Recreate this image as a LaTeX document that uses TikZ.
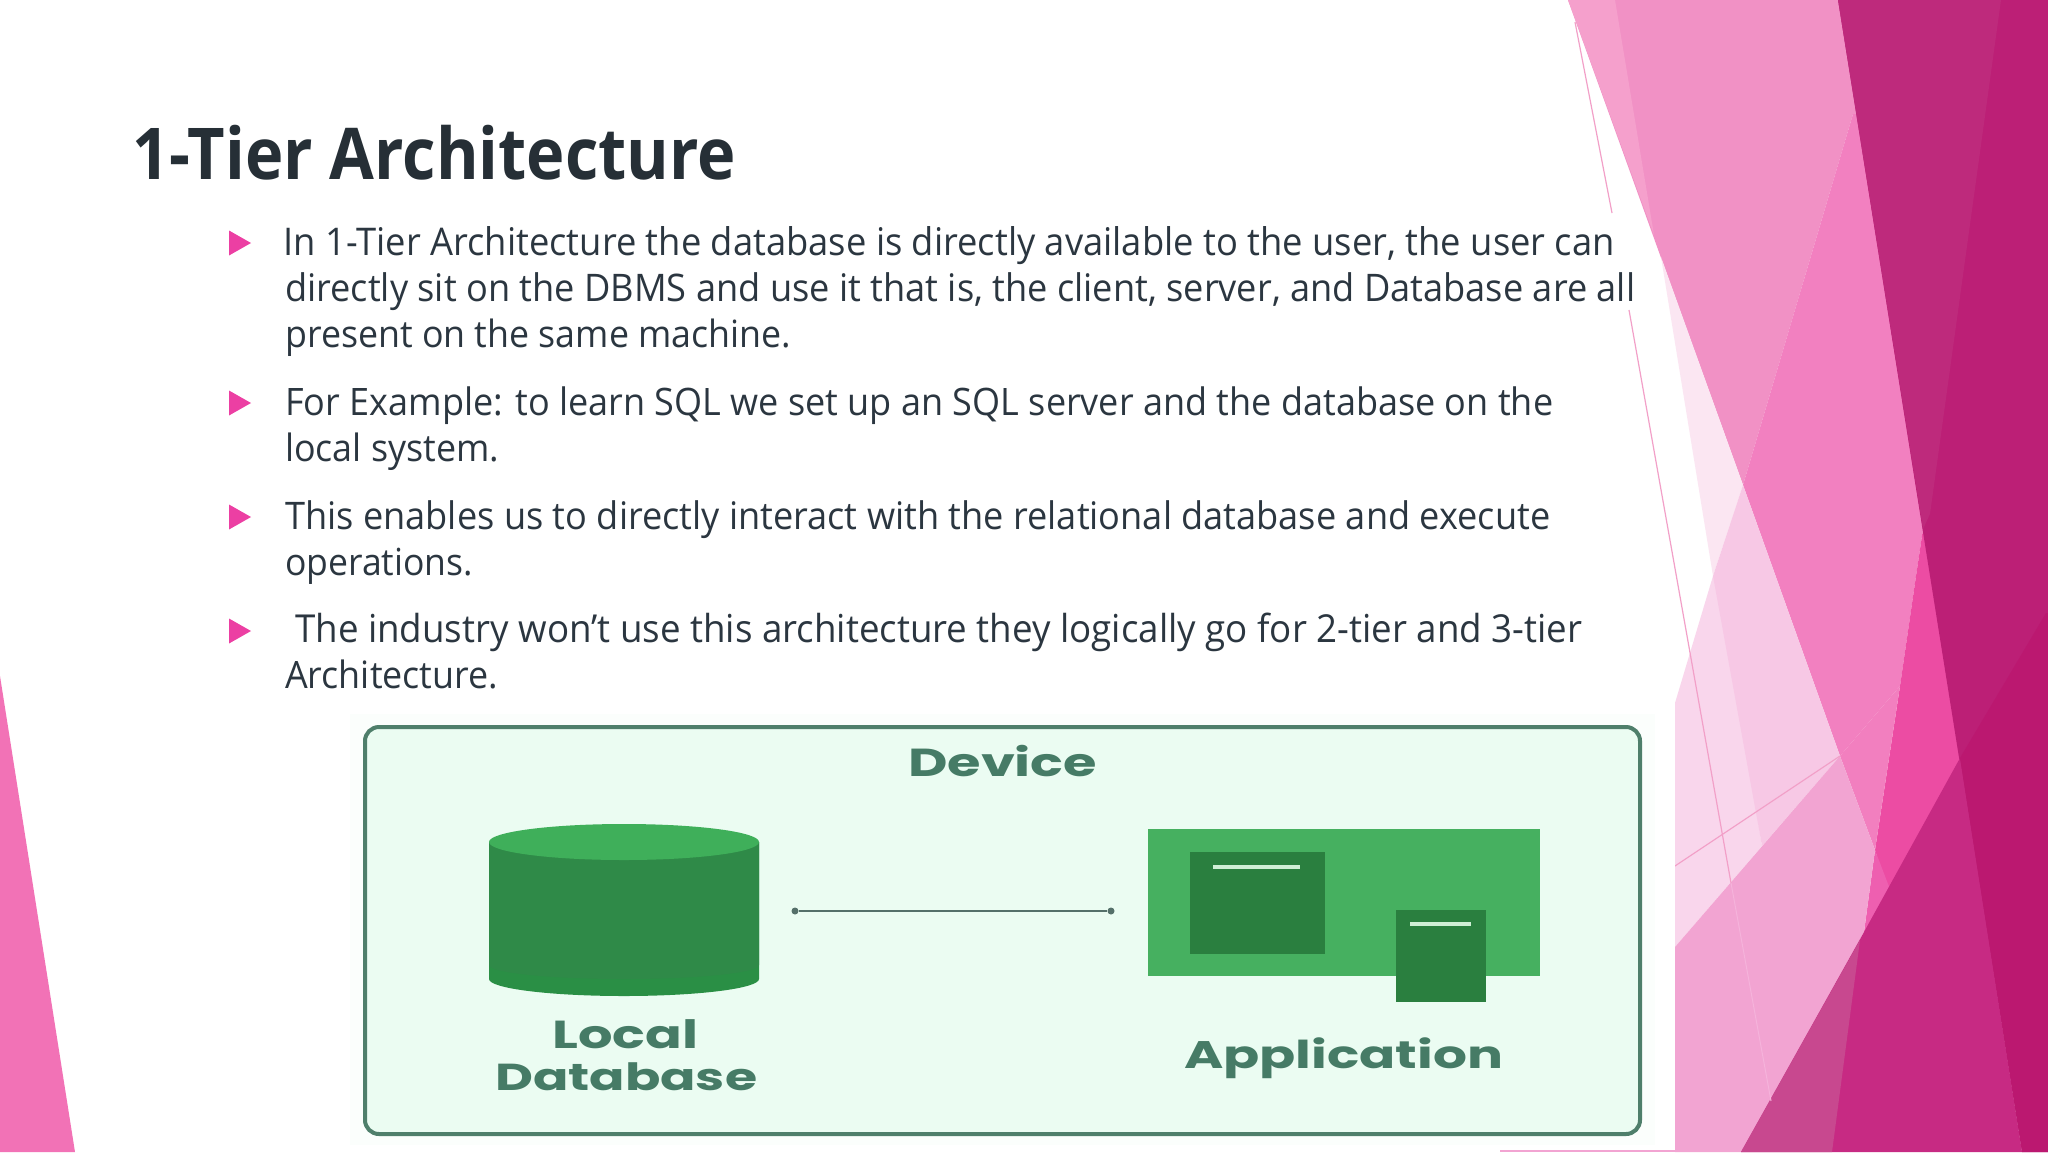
\documentclass[tikz,border=0pt]{standalone}
\usepackage{graphicx}
\usepackage{fontspec}
\setmainfont{Open Sans}
\newfontfamily\difont{Poppins}
\newcommand{\fitv}[3]{\scalebox{1}[#2]{\resizebox{#1pt}{!}{#3}}}
\newcommand{\fitw}[2]{\fitv{#1}{1.05}{#2}}
\newcommand{\hexfill}[2]{\definecolor{tmpc}{HTML}{#1}\fill[tmpc] #2;}
\definecolor{inkc}{HTML}{2B3640}
\definecolor{titlec}{HTML}{262F36}
\definecolor{bulletc}{HTML}{EC3FA3}
\definecolor{labelc}{HTML}{467B66}
\definecolor{panelc}{HTML}{EBFCF2}
\definecolor{panelln}{HTML}{4F7F6B}
\definecolor{thinc}{HTML}{F2A0C8}
\definecolor{thind}{HTML}{F5B3DB}
\definecolor{wirec}{HTML}{55706A}
\tikzset{
  titletext/.style={anchor=base west,inner sep=0pt,text=titlec,font=\fontsize{68}{80}\selectfont\bfseries},
  bodytext/.style={anchor=base west,inner sep=0pt,text=inkc,font=\fontsize{37}{44}\selectfont},
  difftext/.style={anchor=base west,inner sep=0pt,text=labelc,font=\fontsize{32}{38}\difont\bfseries},
  thinln/.style={draw=thinc,line width=1.2pt},
  wire/.style={draw=wirec,line width=2pt},
  wiredot/.style={circle,fill=wirec,inner sep=0pt,minimum size=7pt},
}
\begin{document}
\begin{tikzpicture}[x=1pt,y=-1pt]
\useasboundingbox (0,0) rectangle (2048,1152);
\fill[white] (0,0) rectangle (2048,1152);
% left accent
\hexfill{F272B6}{(0,676) -- (75,1152) -- (0,1152) -- cycle}
% right-hand facets
\hexfill{F191C5}{(1568,0) -- (1860,0) -- (1860,114) -- (1853,114) -- (1743,485) -- cycle}
\hexfill{F5A0CC}{(1568,0) -- (1615,0) -- (1654,235) -- cycle}
\hexfill{FBE6F2}{(1661,257) -- (1743,485) -- (1713,576) -- cycle}
\hexfill{F280C0}{(1853,114) -- (1940,114) -- (1940,529) -- (1923,529) -- (1916,576) -- (1900,686) -- (1840,756) -- (1743,485) -- cycle}
\hexfill{EC4CA3}{(1916,576) -- (1923,529) -- (1935,500) -- (1970,758) -- (1960,770) -- (1900,900) -- (1888,890) -- (1875,850) -- (1900,686) -- cycle}
\hexfill{EE5FB0}{(1875,850) -- (1888,884) -- (1895,900) -- (1870,945) -- (1864,932) -- cycle}
\hexfill{F27FBF}{(1900,686) -- (1875,850) -- (1840,756) -- cycle}
\hexfill{BC1F76}{(1838,0) -- (2048,0) -- (2048,1152) -- (2022,1152) -- cycle}
\hexfill{BE2A7C}{(1838,0) -- (2001,0) -- (1930,514) -- (1923,529) -- cycle}
\hexfill{F9D6EC}{(1675,703) -- (1713,576) -- (1717,576) -- (1762,846) -- (1675,947) -- cycle}
\hexfill{F7C8E5}{(1713,576) -- (1743,485) -- (1840,756) -- (1762,846) -- cycle}
\hexfill{F2A4D2}{(1675,947) -- (1840,756) -- (1875,850) -- (1864,932) -- (1741,1152) -- (1675,1152) -- cycle}
\hexfill{C72A83}{(1741,1152) -- (1864,932) -- (1960,758) -- (2022,1152) -- cycle}
\hexfill{C8488F}{(1741,1152) -- (1860,940) -- (1832,1152) -- cycle}
\hexfill{BB1870}{(1960,758) -- (2046,613) -- (2048,613) -- (2048,1152) -- (2022,1152) -- cycle}
% thin lines
\coordinate (ta) at (1575,22);
\coordinate (tb) at (1612,213);
\coordinate (tc) at (1629,310);
\coordinate (td) at (1731,883);
\coordinate (te) at (1771,1101);
\coordinate (tf) at (1675,866);
\coordinate (tg) at (1840,756);
\draw[thinln] (ta) -- (tb);
\draw[thinln] (tc) -- (td);
\draw[draw=thind,line width=1pt] (td) -- (te);
\draw[thinln] (tf) -- (tg);
% image backdrop
\fill[white] (330,700) rectangle (1675,1150);
\hexfill{F2A4D2}{(1500,1150) rectangle (1675,1152)}
\hexfill{FBFEFC}{(350,714) rectangle (1655,1145)}
% title
\node[titletext] (title) at (132,179) {\fitv{604}{1.1}{1-Tier Architecture}};
% bullets
\foreach \yy in {243,403,517,631}{
  \fill[bulletc] (229,\yy-12.5) -- (251,\yy) -- (229,\yy+12.5) -- cycle;
}
% body
\node[bodytext] (l1) at (283.5,255) {\fitw{1331}{In 1-Tier Architecture the database is directly available to the user, the user can}};
\node[bodytext] (l2) at (285,301) {\fitw{1350}{directly sit on the DBMS and use it that is, the client, server, and Database are all}};
\node[bodytext] (l3) at (285,347) {\fitw{506}{present on the same machine.}};
\node[bodytext] (l4) at (285,415) {\fitw{1268}{For Example: to learn SQL we set up an SQL server and the database on the}};
\node[bodytext] (l5) at (285,461) {\fitw{214}{local system.}};
\node[bodytext] (l6) at (285,529) {\fitw{1265}{This enables us to directly interact with the relational database and execute}};
\node[bodytext] (l7) at (285,575) {\fitw{188}{operations.}};
\node[bodytext] (l8) at (295,642) {\fitw{1287}{The industry won’t use this architecture they logically go for 2-tier and 3-tier}};
\node[bodytext] (l9) at (285,688) {\fitw{213}{Architecture.}};
% device panel
\node[draw=panelln,fill=panelc,line width=4pt,rounded corners=14pt,minimum width=1275pt,minimum height=407pt,inner sep=0pt,anchor=north west] (panel) at (363,725) {};
\node[difftext] (device) at (908,776) {\fitv{189}{0.72}{Device}};
% database cylinder
\hexfill{2A8F45}{(489,842) -- (489,979) arc[start angle=180,end angle=0,x radius=135,y radius=17] -- (759,842) -- cycle}
\hexfill{2F8A48}{(489,842) -- (489,965) arc[start angle=180,end angle=0,x radius=135,y radius=14] -- (759,842) -- cycle}
\hexfill{3FAF5A}{(624,842) ellipse[x radius=135,y radius=18]}
\node[difftext] (lo) at (552,1048) {\fitv{146}{0.72}{Local}};
\node[difftext] (db) at (495,1090) {\fitv{262}{0.72}{Database}};
% connector
\node[wiredot] (wl) at (795,911) {};
\node[wiredot] (wr) at (1111,911) {};
\draw[wire] (wl) -- (wr);
% application
\hexfill{46B060}{(1148,829) rectangle (1540,976)}
\hexfill{2A7F3F}{(1190,852) rectangle (1325,954)}
\hexfill{CFEFD5}{(1213,865) rectangle (1300,869)}
\hexfill{2A7F3F}{(1396,910) rectangle (1486,1002)}
\hexfill{CFEFD5}{(1410,922) rectangle (1471,926)}
\node[difftext] (app) at (1184,1068) {\fitv{319}{0.72}{Application}};
\end{tikzpicture}
\end{document}
